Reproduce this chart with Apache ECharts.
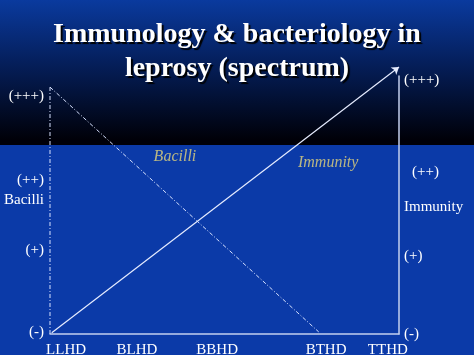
<!DOCTYPE html>
<html>
<head>
<meta charset="utf-8">
<script src="https://cdn.jsdelivr.net/npm/echarts@6/dist/echarts.min.js"></script>
<style>
html, body { margin: 0; padding: 0; }
#chart {
	width: 474px; height: 355px;
	background: linear-gradient(to bottom, #0a3a9e 0px, #05205e 60px, #000008 140px, #000008 145px, #0b3aa8 145px, #0b3aa8 355px);
}
</style>
</head>
<body>
<div id="chart"></div>
<script>
// spectrum categories and where their labels sit along the x scale (0..100)
var stages = ['LLHD', 'BLHD', 'BBHD', 'BTHD', 'TTHD'];
var stageValues = [4.6, 24.9, 47.9, 79.1, 96.8];

// grading labels on both sides (y scale 0..100)
var leftTicks = ['(-)', '(+)', 'Bacilli', '(++)', '(+++)'];
var leftTickValues = [0.8, 32.6, 51.9, 59.7, 92.2];
var rightTicks = ['(-)', '(+)', 'Immunity', '(++)', '(+++)'];
var rightTickValues = [0, 30.2, 49.2, 62.8, 98.4];

// the two curves
var bacilliLine = [[0, 95.7], [77, 0.8]];
var bacilliEdge = [[0, 0], [0, 95.7]];
var immunityLine = [[0.5, 0.5], [100, 103.5]];

// italic captions next to the curves
var captions = [[35.8, 68.6, 'Bacilli'], [79.7, 66.3, 'Immunity']];

var serif = "'Liberation Serif', 'DejaVu Serif', serif";
var dashDot = [4, 2, 1, 2];
var axisColor = '#c4d0ee';

function lookup(names, values) {
	return function (v) {
		for (var i = 0; i < values.length; i++) {
			if (Math.abs(values[i] - v) < 1e-6) return names[i];
		}
		return '';
	};
}

var chart = echarts.init(document.getElementById('chart'), null, { renderer: 'canvas' });

var rightName = lookup(rightTicks, rightTickValues);

var option = {
	backgroundColor: 'transparent',
	animation: false,
	title: {
		text: 'Immunology & bacteriology in\nleprosy (spectrum)',
		left: 'center',
		top: 13,
		textStyle: {
			color: '#ffffff',
			fontFamily: serif,
			fontWeight: 'bold',
			fontSize: 28,
			lineHeight: 34,
			textShadowColor: '#000000',
			textShadowOffsetX: 2,
			textShadowOffsetY: 2,
			textShadowBlur: 1
		}
	},
	grid: { left: 50, right: 75, top: 76, bottom: 21, outerBoundsMode: 'none', containLabel: false },
	xAxis: {
		type: 'value',
		min: 0,
		max: 100,
		axisLine: { show: true, lineStyle: { color: axisColor, width: 1.5 } },
		axisTick: { show: false },
		splitLine: { show: false },
		axisLabel: {
			customValues: stageValues,
			formatter: lookup(stages, stageValues),
			margin: 9,
			color: '#ffffff',
			fontFamily: serif,
			fontSize: 15
		}
	},
	yAxis: [
		{
			type: 'value',
			position: 'left',
			min: 0,
			max: 100,
			axisLine: { show: false },
			axisTick: { show: false },
			splitLine: { show: false },
			axisLabel: {
				customValues: leftTickValues,
				formatter: lookup(leftTicks, leftTickValues),
				margin: 6,
				color: '#ffffff',
				fontFamily: serif,
				fontSize: 15
			}
		},
		{
			type: 'value',
			position: 'right',
			min: 0,
			max: 100,
			axisLine: { show: true, lineStyle: { color: axisColor, width: 1.5 } },
			axisTick: { show: false },
			splitLine: { show: false },
			axisLabel: {
				customValues: rightTickValues,
				formatter: function (v) {
					var s = rightName(v);
					return s === '(++)' ? '{ind|' + s + '}' : s;
				},
				rich: {
					ind: { padding: [0, 0, 0, 8], color: '#ffffff', fontFamily: serif, fontSize: 15 }
				},
				margin: 5,
				color: '#ffffff',
				fontFamily: serif,
				fontSize: 15
			}
		}
	],
	series: [
		{
			name: 'Bacilli edge',
			type: 'line',
			data: bacilliEdge,
			symbol: 'none',
			silent: true,
			lineStyle: { color: '#d8e2ff', width: 1, type: dashDot }
		},
		{
			name: 'Bacilli',
			type: 'line',
			data: bacilliLine,
			symbol: 'none',
			silent: true,
			lineStyle: { color: '#d8e2ff', width: 1, type: dashDot }
		},
		{
			name: 'Immunity',
			type: 'lines',
			coordinateSystem: 'cartesian2d',
			clip: false,
			symbol: ['none', 'arrow'],
			symbolSize: 7,
			silent: true,
			lineStyle: { color: '#e6ecff', width: 1.2, opacity: 1 },
			data: [{ coords: immunityLine }]
		},
		{
			name: 'captions',
			type: 'scatter',
			data: captions,
			symbolSize: 0,
			silent: true,
			label: {
				show: true,
				position: 'inside',
				formatter: function (p) { return p.value[2]; },
				color: '#e3d57a',
				fontFamily: serif,
				fontStyle: 'italic',
				fontSize: 16
			}
		}
	]
};

chart.setOption(option);
</script>
</body>
</html>
